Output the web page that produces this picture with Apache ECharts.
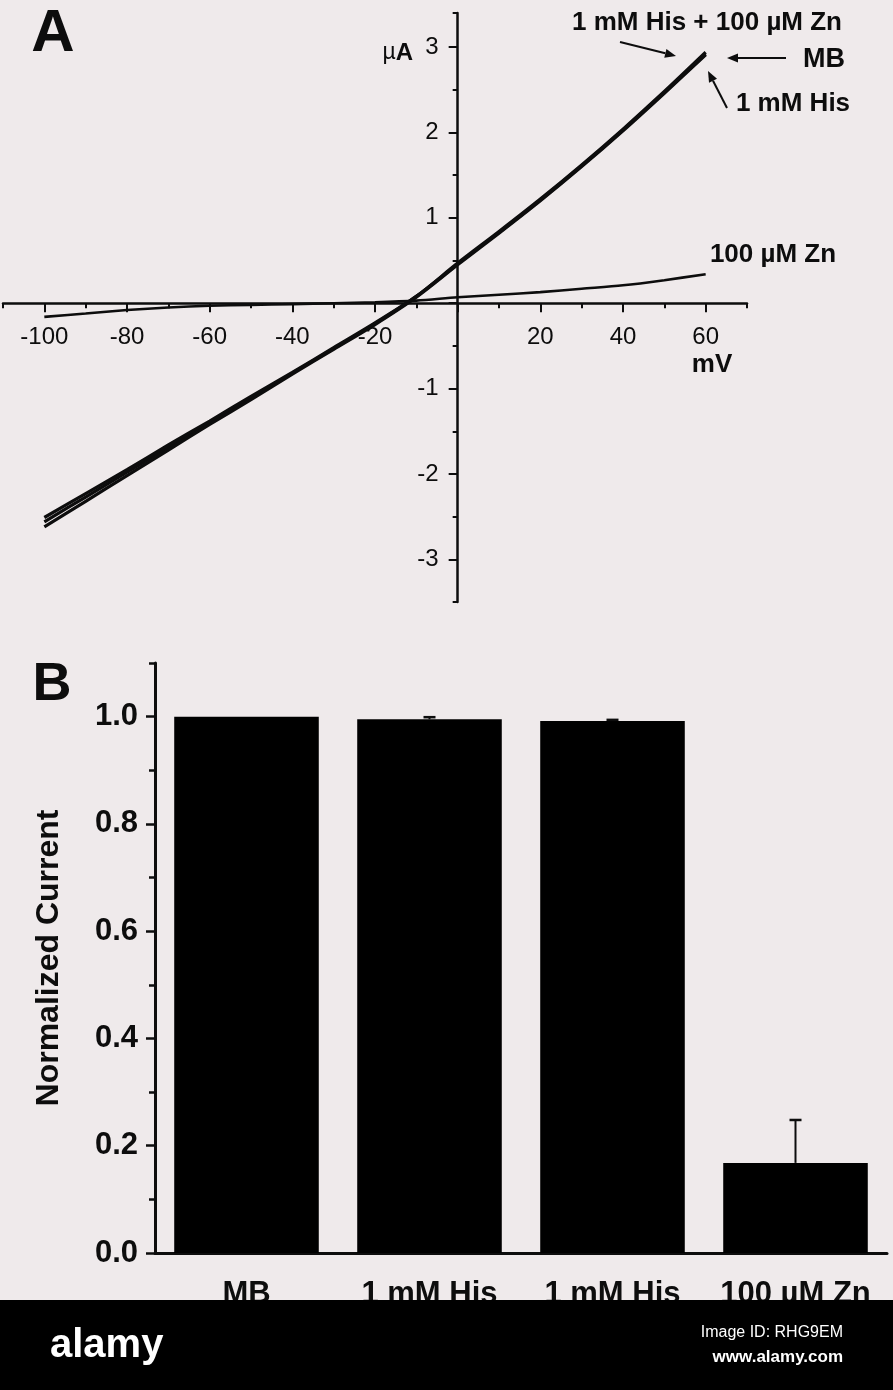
<!DOCTYPE html>
<html>
<head>
<meta charset="UTF-8">
<title>I-V curves and normalized current</title>
<script src="https://cdn.jsdelivr.net/npm/echarts@6/dist/echarts.min.js"></script>
<style>
  html, body { margin: 0; padding: 0; background: #efeaeb; }
  #chart { width: 893px; height: 1390px; }
</style>
</head>
<body>
<div id="chart"></div>
<script>
// ---- panel A: current-voltage relation ----
const voltages = [-100, -90, -80, -70, -60, -50, -40, -30, -20, -10, 0, 10, 20, 30, 40, 50, 60];
const currentMB = [-2.56, -2.27, -1.98, -1.69, -1.40, -1.11, -0.82, -0.53, -0.24, 0.08, 0.46, 0.83, 1.21, 1.61, 2.03, 2.47, 2.92];
const currentHis = [-2.62, -2.32, -2.02, -1.72, -1.42, -1.13, -0.83, -0.54, -0.25, 0.07, 0.45, 0.82, 1.20, 1.60, 2.02, 2.46, 2.91];
const currentHisZn = [-2.51, -2.23, -1.95, -1.66, -1.38, -1.09, -0.81, -0.52, -0.23, 0.08, 0.47, 0.84, 1.22, 1.62, 2.04, 2.48, 2.94];
const currentZn = [-0.16, -0.12, -0.08, -0.05, -0.03, -0.02, -0.01, 0.0, 0.01, 0.03, 0.07, 0.10, 0.13, 0.17, 0.21, 0.27, 0.34];

const xRange = [-110, 70];
const yRange = [-3.5, 3.4];
const xMajorTicks = [-100, -80, -60, -40, -20, 0, 20, 40, 60];
const xTickLabels = [-100, -80, -60, -40, -20, 20, 40, 60];
const xMinorTicks = [-110, -90, -70, -50, -30, -10, 10, 30, 50, 70];
const yMajorTicks = [-3, -2, -1, 0, 1, 2, 3];
const yTickLabels = [-3, -2, -1, 1, 2, 3];
const yMinorTicks = [-3.5, -2.5, -1.5, -0.5, 0.5, 1.5, 2.5, 3.4];

// ---- panel B: normalized current ----
const conditions = ['MB', '1 mM His', '1 mM His', '100 \u00b5M Zn'];
const normCurrent = [1.0, 0.995, 0.992, 0.168];
const normError = [0, 0.004, 0.002, 0.080];
const bTickLabels = [0, 0.2, 0.4, 0.6, 0.8, 1.0];
const bMinorTicks = [0.1, 0.3, 0.5, 0.7, 0.9, 1.1];

const FONT = '"Liberation Sans", Arial, Helvetica, sans-serif';
const INK = '#0d0d0d';

// grid A in pixels; axes are pulled in to cross at zero (offset, not onZero,
// so that the tick labels follow the axis lines)
const gridA = {left: 3, top: 13, width: 744, height: 589};
const xShift = -(0 - xRange[0]) / (xRange[1] - xRange[0]) * gridA.width;
const yShift = -(0 - yRange[0]) / (yRange[1] - yRange[0]) * gridA.height;

const chart = echarts.init(document.getElementById('chart'));

function pairs(ys) {
    return voltages.map((v, i) => [v, ys[i]]);
}

function ivLine(name, ys, width) {
    return {
        name: name, type: 'line', xAxisIndex: 0, yAxisIndex: 0, clip: false,
        data: pairs(ys), showSymbol: false, smooth: 0.3,
        lineStyle: {color: INK, width: width}
    };
}

// arrow annotation: line with a filled head at (x2, y2)
function arrow(x1, y1, x2, y2) {
    const a = Math.atan2(y2 - y1, x2 - x1);
    const L = 11, W = 4.5;
    const bx = x2 - L * Math.cos(a), by = y2 - L * Math.sin(a);
    const px = -Math.sin(a) * W, py = Math.cos(a) * W;
    return [
        {type: 'line', z: 50, shape: {x1: x1, y1: y1, x2: bx, y2: by}, style: {stroke: INK, lineWidth: 2}},
        {type: 'polygon', z: 50, shape: {points: [[x2, y2], [bx + px, by + py], [bx - px, by - py]]}, style: {fill: INK}}
    ];
}

function label(text, x, y, font) {
    return {
        type: 'text', z: 50, x: x, y: y,
        style: {text: text, font: font, fill: INK, align: 'center', verticalAlign: 'middle'}
    };
}

function valueAxisA(dim, ticks, labels, len, showLine) {
    const isX = dim === 'x';
    return {
        type: 'value', gridIndex: 0, position: isX ? 'bottom' : 'left',
        offset: isX ? yShift : xShift,
        min: isX ? xRange[0] : yRange[0], max: isX ? xRange[1] : yRange[1],
        axisLine: {show: true, onZero: false, lineStyle: {color: showLine ? INK : 'rgba(0,0,0,0)', width: 2.5}},
        axisTick: {show: true, customValues: ticks, length: len, lineStyle: {color: INK, width: 2}},
        axisLabel: labels
            ? {customValues: labels, fontSize: 24, color: INK, margin: isX ? 22 : 19, fontFamily: FONT}
            : {show: false},
        splitLine: {show: false}
    };
}

const errorSeries = {
    type: 'custom', xAxisIndex: 2, yAxisIndex: 2, z: 5,
    data: normCurrent.map((v, i) => [i, v, normError[i]]),
    renderItem: function (params, api) {
        const err = api.value(2);
        if (!err) return null;
        const top = api.coord([api.value(0), api.value(1)]);
        const end = api.coord([api.value(0), api.value(1) + err]);
        return {
            type: 'group',
            children: [
                {type: 'line', shape: {x1: top[0], y1: top[1], x2: end[0], y2: end[1]}, style: {stroke: INK, lineWidth: 2}},
                {type: 'line', shape: {x1: end[0] - 6, y1: end[1], x2: end[0] + 6, y2: end[1]}, style: {stroke: INK, lineWidth: 2.5}}
            ]
        };
    }
};

const option = {
    backgroundColor: '#efeaeb',
    animation: false,
    textStyle: {fontFamily: FONT},
    grid: [
        Object.assign({outerBoundsMode: 'none', containLabel: false}, gridA),
        {left: 155, top: 663, right: 6, height: 590, outerBoundsMode: 'none', containLabel: false}
    ],
    xAxis: [
        valueAxisA('x', xMajorTicks, xTickLabels, 9, true),
        valueAxisA('x', xMinorTicks, null, 5, false),
        {
            type: 'category', gridIndex: 1, position: 'bottom', data: conditions,
            axisLine: {lineStyle: {color: INK, width: 3}},
            axisTick: {alignWithLabel: true, length: 11, lineStyle: {color: INK, width: 2.5}},
            axisLabel: {interval: 0, fontSize: 31, fontWeight: 'bold', color: INK, margin: 26, fontFamily: FONT,
                hideOverlap: false}
        },
        {
            type: 'category', gridIndex: 1, position: 'bottom', data: conditions,
            axisLine: {lineStyle: {color: 'rgba(0,0,0,0)'}},
            axisTick: {length: 5, lineStyle: {color: INK, width: 2.5}},
            axisLabel: {show: false}
        }
    ],
    yAxis: [
        valueAxisA('y', yMajorTicks, yTickLabels, 9, true),
        valueAxisA('y', yMinorTicks, null, 5, false),
        {
            type: 'value', gridIndex: 1, position: 'left', min: 0, max: 1.1,
            name: 'Normalized Current', nameLocation: 'middle', nameGap: 90,
            nameTextStyle: {fontSize: 32, fontWeight: 'bold', color: INK, fontFamily: FONT},
            axisLine: {show: true, lineStyle: {color: INK, width: 3}},
            axisTick: {show: true, customValues: bTickLabels, length: 9, lineStyle: {color: INK, width: 2.5}},
            axisLabel: {customValues: bTickLabels, fontSize: 31, fontWeight: 'bold', color: INK, margin: 17,
                fontFamily: FONT, formatter: v => v.toFixed(1)},
            splitLine: {show: false}
        },
        {
            type: 'value', gridIndex: 1, position: 'left', min: 0, max: 1.1,
            axisLine: {show: true, lineStyle: {color: 'rgba(0,0,0,0)'}},
            axisTick: {show: true, customValues: bMinorTicks, length: 6, lineStyle: {color: INK, width: 2.5}},
            axisLabel: {show: false},
            splitLine: {show: false}
        }
    ],
    series: [
        ivLine('MB', currentMB, 3.2),
        ivLine('1 mM His', currentHis, 3.2),
        ivLine('1 mM His + 100 \u00b5M Zn', currentHisZn, 3.2),
        ivLine('100 \u00b5M Zn', currentZn, 2.6),
        {
            name: 'Normalized Current', type: 'bar', xAxisIndex: 2, yAxisIndex: 2,
            data: normCurrent, barWidth: '79%', itemStyle: {color: '#000'}
        },
        errorSeries
    ],
    graphic: [
        label('A', 53, 34, 'bold 60px ' + FONT),
        label('B', 52, 685, 'bold 54px ' + FONT),
        {
            type: 'text', z: 50, x: 413, y: 53,
            style: {
                text: '{u|\u00b5}{b|A}', align: 'right', verticalAlign: 'middle', fill: INK,
                rich: {u: {font: '23px ' + FONT, fill: INK}, b: {font: 'bold 24px ' + FONT, fill: INK}}
            }
        },
        label('mV', 712, 365, 'bold 26px ' + FONT),
        label('1 mM His + 100 \u00b5M Zn', 707, 23, 'bold 26px ' + FONT),
        label('MB', 824, 60, 'bold 27px ' + FONT),
        label('1 mM His', 793, 104, 'bold 26px ' + FONT),
        label('100 \u00b5M Zn', 773, 255, 'bold 26px ' + FONT),
        ...arrow(620, 42, 676, 56),
        ...arrow(786, 58, 727, 58),
        ...arrow(727, 108, 708, 71),
        // stock-photo banner along the bottom edge
        {type: 'rect', z: 100, shape: {x: 0, y: 1300, width: 893, height: 90}, style: {fill: '#000'}},
        {
            type: 'text', z: 101, x: 50, y: 1346,
            style: {text: 'alamy', font: 'bold 40px "Liberation Sans Narrow", ' + FONT, fill: '#fff', verticalAlign: 'middle'}
        },
        {
            type: 'text', z: 101, x: 843, y: 1333,
            style: {text: 'Image ID: RHG9EM', font: '16px "Liberation Sans Narrow", ' + FONT, fill: '#fff', align: 'right', verticalAlign: 'middle'}
        },
        {
            type: 'text', z: 101, x: 843, y: 1357,
            style: {text: 'www.alamy.com', font: 'bold 17px "Liberation Sans Narrow", ' + FONT, fill: '#fff', align: 'right', verticalAlign: 'middle'}
        }
    ]
};

chart.setOption(option);
</script>
</body>
</html>
